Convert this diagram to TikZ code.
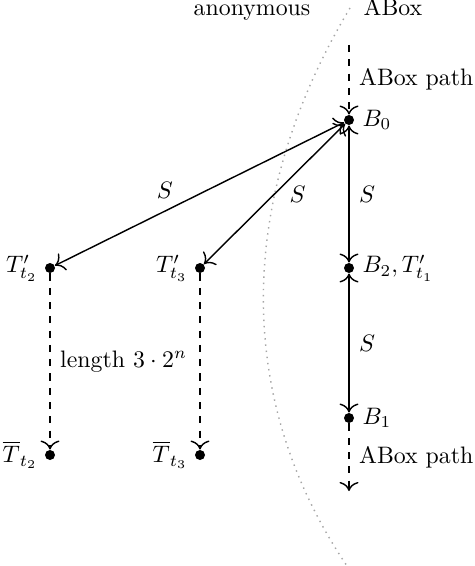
\documentclass[tikz,border=0pt]{standalone}
\usetikzlibrary{arrows.meta}
\begin{document}
\begin{tikzpicture}[x=0.42pt,y=-0.42pt,
  >={To[scale=1.3]},
  dot/.style={circle,fill=black,inner sep=0pt,minimum size=4.2pt},
  sedge/.style={<->,semithick},
  dedge/.style={->,dashed,semithick},
  lbl/.style={inner sep=1pt}]
\useasboundingbox (0,0) rectangle (474,566);
% boundary curve
\draw[gray!70,dotted,line width=0.6pt] (350,8) .. controls (235,200) and (235,400) .. (347,566);
% nodes
\node[dot] (b0) at (349,120) {};
\node[dot] (b2) at (349,268) {};
\node[dot] (b1) at (349,418) {};
\node[dot] (t2) at (50,268) {};
\node[dot] (t3) at (200,268) {};
\node[dot] (tb2) at (50,455) {};
\node[dot] (tb3) at (200,455) {};
\coordinate (top) at (349,45);
\coordinate (bot) at (349,491);
% node labels
\node[lbl,anchor=west] at ([xshift=4.5pt]b0.center) {$B_0$};
\node[lbl,anchor=west] at ([xshift=4.5pt]b2.center) {$B_2, T'_{t_1}$};
\node[lbl,anchor=west] at ([xshift=4.5pt]b1.center) {$B_1$};
\node[lbl,anchor=east] at ([xshift=-4pt]t2.center) {$T'_{t_2}$};
\node[lbl,anchor=east] at ([xshift=-4pt]t3.center) {$T'_{t_3}$};
\node[lbl,anchor=east] at ([xshift=-4pt]tb2.center) {$\overline{T}_{t_2}$};
\node[lbl,anchor=east] at ([xshift=-4pt]tb3.center) {$\overline{T}_{t_3}$};
\node[lbl,anchor=base] (anon) at (252,16) {anonymous};
\node[lbl,anchor=base] (abox) at (393,16) {ABox};
% connectors
\draw[dedge] (top) -- (b0) node[midway,right=3pt,lbl] {ABox path};
\draw[sedge] (b0) -- (t2) node[pos=0.62,above=4pt,lbl] {$S$};
\draw[sedge] (b0) -- (t3) node[pos=0.5,right=5pt,lbl] {$S$};
\draw[sedge] (b0) -- (b2) node[midway,right=3pt,lbl] {$S$};
\draw[sedge] (b2) -- (b1) node[midway,right=3pt,lbl] {$S$};
\draw[dedge] (b1) -- (bot) node[midway,right=3pt,lbl] {ABox path};
\draw[dedge] (t2) -- (tb2) node[midway,right=3pt,lbl] {length $3\cdot 2^n$};
\draw[dedge] (t3) -- (tb3);
\end{tikzpicture}
\end{document}
